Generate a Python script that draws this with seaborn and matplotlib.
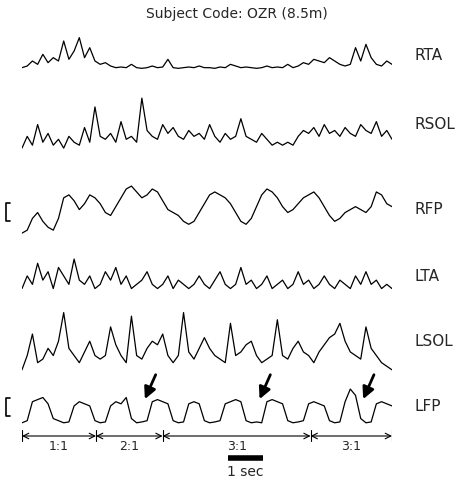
import matplotlib
matplotlib.use("Agg")
import matplotlib.pyplot as plt
import seaborn as sns
import numpy as np

sns.set_style("white")
plt.rcParams['font.family'] = ['DejaVu Sans']

title = "Subject Code: OZR (8.5m)"
labels = ["RTA", "RSOL", "RFP", "LTA", "LSOL", "LFP"]

rta = [0.1,0.15,0.3,0.2,0.5,0.25,0.4,0.3,0.9,0.35,0.6,1.0,0.4,0.7,0.3,0.2,0.25,0.15,0.1,0.12,
       0.1,0.2,0.1,0.08,0.1,0.15,0.1,0.12,0.35,0.1,0.08,0.1,0.12,0.1,0.15,0.1,0.1,0.08,0.12,0.1,
       0.2,0.15,0.1,0.12,0.1,0.08,0.1,0.15,0.1,0.12,0.1,0.2,0.1,0.15,0.25,0.2,0.35,0.3,0.25,0.4,
       0.3,0.2,0.15,0.2,0.7,0.3,0.8,0.4,0.2,0.15,0.3,0.2]
rsol = [0.1,0.3,0.15,0.5,0.2,0.35,0.15,0.25,0.1,0.3,0.2,0.15,0.45,0.2,0.8,0.3,0.25,0.35,0.2,0.55,
        0.25,0.3,0.2,0.95,0.4,0.3,0.25,0.5,0.35,0.45,0.3,0.25,0.4,0.3,0.35,0.25,0.5,0.3,0.2,0.35,
        0.25,0.3,0.6,0.3,0.25,0.2,0.35,0.25,0.15,0.2,0.15,0.2,0.15,0.3,0.4,0.35,0.45,0.3,0.5,0.35,
        0.4,0.3,0.45,0.35,0.3,0.5,0.4,0.35,0.55,0.3,0.4,0.25]
rfp = [0.1,0.15,0.35,0.45,0.3,0.2,0.15,0.35,0.7,0.75,0.65,0.5,0.6,0.75,0.7,0.6,0.45,0.4,0.55,0.7,
       0.85,0.9,0.8,0.7,0.75,0.85,0.8,0.65,0.5,0.45,0.4,0.3,0.25,0.3,0.45,0.6,0.75,0.8,0.75,0.7,
       0.6,0.45,0.3,0.25,0.35,0.55,0.75,0.85,0.8,0.7,0.55,0.45,0.5,0.6,0.7,0.75,0.8,0.7,0.55,0.4,
       0.3,0.35,0.45,0.5,0.55,0.5,0.45,0.55,0.8,0.75,0.6,0.55]
lta = [0.2,0.5,0.3,0.8,0.4,0.6,0.2,0.7,0.5,0.3,0.9,0.4,0.3,0.5,0.2,0.3,0.6,0.4,0.7,0.3,
       0.5,0.2,0.3,0.4,0.6,0.3,0.2,0.3,0.5,0.2,0.4,0.3,0.2,0.3,0.5,0.3,0.2,0.4,0.6,0.3,
       0.2,0.3,0.7,0.3,0.4,0.2,0.3,0.5,0.2,0.3,0.4,0.2,0.3,0.6,0.3,0.4,0.2,0.3,0.5,0.3,
       0.2,0.4,0.3,0.2,0.5,0.3,0.6,0.3,0.4,0.2,0.3,0.2]
lsol = [0.1,0.3,0.6,0.2,0.25,0.4,0.3,0.5,0.9,0.4,0.3,0.2,0.35,0.5,0.3,0.25,0.3,0.7,0.45,0.3,
        0.2,0.85,0.3,0.25,0.4,0.5,0.45,0.6,0.3,0.2,0.3,0.9,0.35,0.25,0.4,0.55,0.4,0.3,0.25,0.2,
        0.75,0.3,0.35,0.45,0.5,0.3,0.2,0.25,0.3,0.8,0.3,0.25,0.4,0.5,0.35,0.3,0.2,0.35,0.45,0.55,
        0.6,0.75,0.5,0.35,0.3,0.25,0.7,0.4,0.3,0.2,0.15,0.1]
lfp = [0.1,0.15,0.6,0.65,0.7,0.55,0.2,0.15,0.1,0.12,0.5,0.6,0.55,0.5,0.15,0.1,0.12,0.5,0.6,0.55,
       0.7,0.2,0.1,0.12,0.15,0.6,0.65,0.6,0.55,0.15,0.1,0.12,0.55,0.6,0.55,0.15,0.1,0.12,0.15,0.55,
       0.6,0.65,0.6,0.15,0.1,0.12,0.1,0.6,0.65,0.6,0.55,0.15,0.1,0.12,0.15,0.55,0.6,0.55,0.5,0.15,
       0.1,0.12,0.6,0.9,0.75,0.2,0.1,0.12,0.55,0.6,0.55,0.5]

ratio_labels = ["1:1", "2:1", "3:1", "3:1"]
ratio_edges = [0.0, 0.2, 0.38, 0.78, 1.0]
arrow_pos = [0.36, 0.67, 0.95]

rows = [rta, rsol, rfp, lta, lsol, lfp]
# top, bottom in pixels
boxes = [(38, 72), (95, 155), (180, 240), (255, 298), (305, 378), (385, 428)]

W, H = 474, 481
fig = plt.figure(figsize=(W / 100, H / 100), dpi=100)
x0, x1 = 22 / W, 392 / W
fig.text(0.5, 1 - 14 / H, title, ha="center", va="center", fontsize=10)

for vals, lab, (t, b) in zip(rows, labels, boxes):
    ax = fig.add_axes([x0, 1 - b / H, x1 - x0, (b - t) / H])
    sns.lineplot(x=np.arange(len(vals)), y=vals, ax=ax, color="black", linewidth=0.9)
    ax.set_xlim(0, len(vals) - 1)
    ax.set_ylim(0, 1.02)
    ax.axis("off")
    fig.text(415 / W, 1 - (t + b) / 2 / H, lab, ha="left", va="center", fontsize=11)

# brackets
for yc in [213, 408]:
    fig.lines.append(plt.Line2D([10 / W, 6 / W, 6 / W, 10 / W],
                                [1 - (yc - 9) / H, 1 - (yc - 9) / H, 1 - (yc + 9) / H, 1 - (yc + 9) / H],
                                transform=fig.transFigure, color="black", linewidth=1.2))

# bottom annotations
axb = fig.add_axes([x0, 0, x1 - x0, 1 - 430 / H])
axb.set_xlim(0, 1)
axb.set_ylim(0, 51)
axb.axis("off")
for i, lab in enumerate(ratio_labels):
    a, c = ratio_edges[i], ratio_edges[i + 1]
    axb.annotate("", xy=(a, 44), xytext=(c, 44),
                 arrowprops=dict(arrowstyle="<->", lw=0.8, color="black", shrinkA=0, shrinkB=0))
    axb.text((a + c) / 2, 34, lab, ha="center", va="center", fontsize=9)
for e in ratio_edges:
    axb.plot([e, e], [39, 50], color="black", lw=0.8)
axb.plot([0.557, 0.65], [22, 22], color="black", lw=4, solid_capstyle="butt")
axb.text(0.603, 9, "1 sec", ha="center", va="center", fontsize=10)

axl = fig.axes[5]
for p in arrow_pos:
    axl.annotate("", xy=(p * 71 - 2.2, 0.6), xytext=(p * 71 + 0.3, 1.3),
                 arrowprops=dict(arrowstyle="-|>,head_width=0.35,head_length=0.7", lw=2, color="black"),
                 annotation_clip=False)

fig.savefig("out.png", dpi=100)
